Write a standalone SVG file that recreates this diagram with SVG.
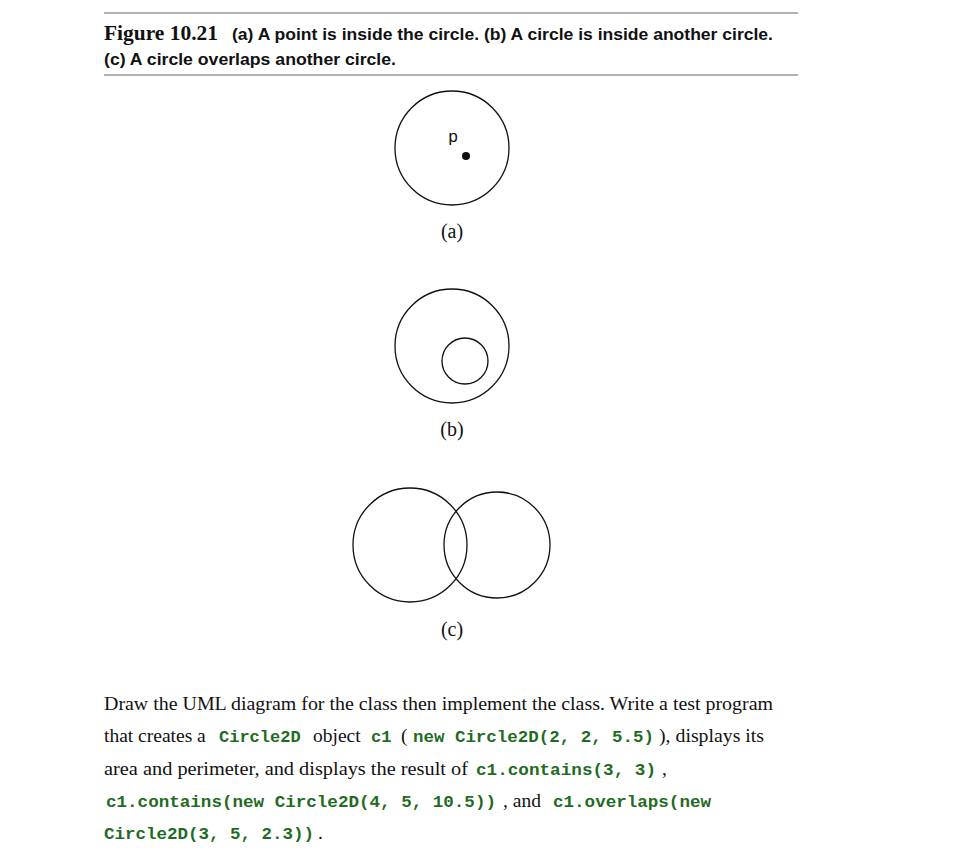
<svg xmlns="http://www.w3.org/2000/svg" width="969" height="852" viewBox="0 0 969 852">
<style>
.ln{stroke:#666;stroke-width:1.2}
.c{fill:none;stroke:#111;stroke-width:1.3}
.t{font-family:"Liberation Serif",serif;font-size:19.5px;fill:#111;font-weight:normal}
.m{font-family:"Liberation Mono",monospace;font-size:17px;font-weight:bold;fill:#1f6b1f}
.h{font-family:"Liberation Sans",sans-serif;font-size:17px;font-weight:bold;fill:#111}
.f{font-family:"Liberation Serif",serif;font-size:21px;font-weight:bold;fill:#111}
.lab{font-family:"Liberation Serif",serif;font-size:20px;fill:#111;text-anchor:middle}
.p{font-family:"Liberation Mono",monospace;font-size:17px;fill:#111;text-anchor:middle}
</style>
<rect width="969" height="852" fill="#fff"/>
<line class="ln" x1="104" y1="13" x2="798" y2="13"/>
<line class="ln" x1="104" y1="75" x2="798" y2="75"/>
<text x="104" y="40" class="f" textLength="114" lengthAdjust="spacingAndGlyphs">Figure 10.21</text>
<text x="232" y="40" class="h" textLength="541" lengthAdjust="spacingAndGlyphs">(a) A point is inside the circle. (b) A circle is inside another circle.</text>
<text x="104" y="65" class="h" textLength="292" lengthAdjust="spacingAndGlyphs">(c) A circle overlaps another circle.</text>
<circle class="c" cx="452" cy="148" r="57"/>
<circle cx="466" cy="156" r="4" fill="#111"/>
<text x="453" y="142" class="p">p</text>
<text x="452" y="238" class="lab">(a)</text>
<circle class="c" cx="452" cy="346" r="57"/>
<circle class="c" cx="465" cy="361" r="23"/>
<text x="452" y="436" class="lab">(b)</text>
<circle class="c" cx="410" cy="545" r="57"/>
<circle class="c" cx="497" cy="545" r="53"/>
<text x="452" y="636" class="lab">(c)</text>
<text x="104" y="710" class="t" textLength="669" lengthAdjust="spacingAndGlyphs">Draw the UML diagram for the class then implement the class. Write a test program</text>
<text x="104" y="742" class="t">that creates a</text>
<text x="219" y="742" class="m">Circle2D</text>
<text x="313" y="742" class="t">object</text>
<text x="371" y="742" class="m">c1</text>
<text x="401" y="742" class="t">(</text>
<text x="413" y="742" class="m" textLength="241" lengthAdjust="spacingAndGlyphs">new Circle2D(2, 2, 5.5)</text>
<text x="659" y="742" class="t" textLength="105" lengthAdjust="spacingAndGlyphs">), displays its</text>
<text x="104" y="775" class="t" textLength="364" lengthAdjust="spacingAndGlyphs">area and perimeter, and displays the result of</text>
<text x="476" y="775" class="m" textLength="180" lengthAdjust="spacingAndGlyphs">c1.contains(3, 3)</text>
<text x="662" y="775" class="t">,</text>
<text x="106" y="807" class="m" textLength="390" lengthAdjust="spacingAndGlyphs">c1.contains(new Circle2D(4, 5, 10.5))</text>
<text x="503" y="807" class="t">, and</text>
<text x="553" y="807" class="m" textLength="158" lengthAdjust="spacingAndGlyphs">c1.overlaps(new</text>
<text x="104" y="839" class="m" textLength="210" lengthAdjust="spacingAndGlyphs">Circle2D(3, 5, 2.3))</text>
<text x="318" y="839" class="t">.</text>
</svg>
